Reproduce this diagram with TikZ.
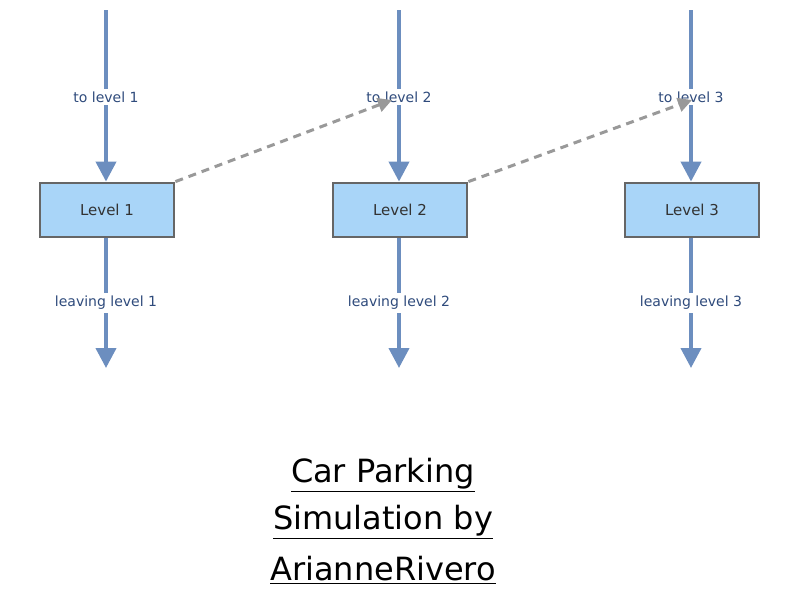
\documentclass[tikz,border=0pt]{standalone}
\usepackage{fontspec}
\setmainfont{DejaVu Sans}
\usetikzlibrary{arrows.meta}
\definecolor{ln}{HTML}{6C8EBF}
\definecolor{bx}{HTML}{A9D5F8}
\definecolor{tx}{HTML}{2F4B7C}
\begin{document}
\begin{tikzpicture}[x=1pt,y=-1pt,
 flow/.style={draw=ln,line width=4pt,-{Triangle[width=20pt,length=20pt]}},
 lab/.style={fill=white,text=tx,font=\fontsize{14}{16}\selectfont,inner sep=3pt},
 box/.style={draw=black!60,line width=2.8pt,fill=bx,minimum width=134pt,minimum height=54pt,font=\fontsize{15}{17}\selectfont,text=black!80,inner sep=0pt},
 dashlink/.style={draw=black!40,line width=3pt,dash pattern=on 8pt off 6pt,-{Triangle[width=14pt,length=14pt]}},
 title/.style={font=\fontsize{32}{36}\selectfont,align=center}]
\useasboundingbox (0,0) rectangle (800,598);
\foreach \i/\x in {1/106,2/399,3/691}{
 \coordinate (t\i) at (\x,10);
 \coordinate (e\i) at (\x,368);
 \node[box] (b\i) at (\x+1,210) {Level \i};
 \draw[flow] (t\i) -- (b\i.north -| t\i);
 \draw[flow] (b\i.south -| t\i) -- (e\i);
 \node[lab] (l\i) at (\x,97) {to level \i};
 \node[lab] (m\i) at (\x,303) {leaving level \i};
}
\coordinate (d2) at (392,100);
\coordinate (d3) at (692,100);
\draw[dashlink] (b1.north east) -- (d2);
\draw[dashlink] (b2.north east) -- (d3);
\node[title] (T1) at (383,475) {\underline{Car Parking}};
\node[title] (T2) at (383,522) {\underline{Simulation by}};
\node[title] (T3) at (383,570) {\underline{ArianneRivero}};
\end{tikzpicture}
\end{document}
